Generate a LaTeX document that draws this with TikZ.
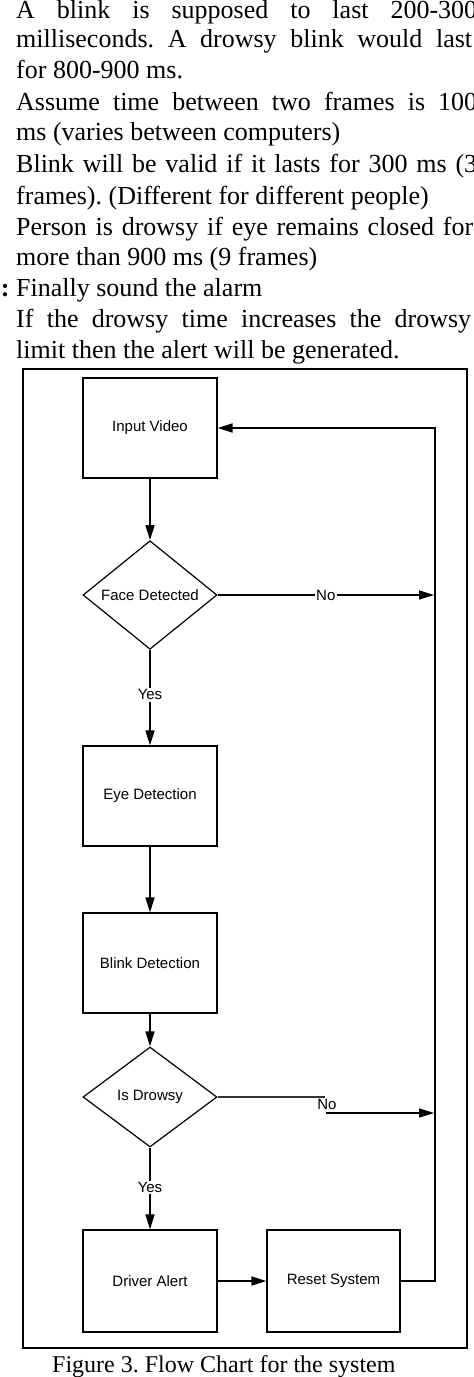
\documentclass[tikz,border=0pt]{standalone}
\usepackage{fontspec}
\setmainfont{Liberation Serif}
\newfontfamily\flowfont{Liberation Sans}
\usetikzlibrary{shapes.geometric,arrows.meta}
\frenchspacing
\begin{document}
\begin{tikzpicture}[x=1pt,y=-1pt,
  body/.style={anchor=base west, inner sep=0pt, font=\fontsize{26}{30}\selectfont},
  proc/.style={draw, line width=1.2pt, minimum width=134pt, minimum height=100pt, inner sep=0pt,
    font=\flowfont\fontsize{15}{18}\selectfont},
  dec/.style={diamond, draw, line width=1.2pt, minimum width=134pt, minimum height=100pt, inner sep=0pt,
    font=\flowfont\fontsize{15}{18}\selectfont},
  conn/.style={line width=1.5pt, -{Triangle[length=15pt,width=9pt]}},
  thin/.style={line width=1.2pt},
  lab/.style={fill=white, inner sep=1.5pt, font=\flowfont\fontsize{15}{18}\selectfont},
  frame/.style={line width=2.6pt}
]
\clip (0,0) rectangle (474,1377);
\fill[white] (0,0) rectangle (474,1377);

% text above the figure
\node[body] (t1) at (16,18) {\makebox[461pt][s]{A blink is supposed to last 200-300}};
\node[body] (t2) at (16,47) {\makebox[456pt][s]{milliseconds. A drowsy blink would last}};
\node[body] (t3) at (16,78) {for 800-900 ms.};
\node[body] (t4) at (16,110) {\makebox[461pt][s]{Assume time between two frames is 100}};
\node[body] (t5) at (16,140) {ms (varies between computers)};
\node[body] (t6) at (16,172) {\makebox[461pt][s]{Blink will be valid if it lasts for 300 ms (3}};
\node[body] (t7) at (16,204) {frames). (Different for different people)};
\node[body] (t8) at (16,235) {\makebox[457pt][s]{Person is drowsy if eye remains closed for}};
\node[body] (t9) at (16,265) {more than 900 ms (9 frames)};
\node[body] (t10) at (0.8,296) {\textbf{:} Finally sound the alarm};
\node[body] (t11) at (16,327) {\makebox[455pt][s]{If the drowsy time increases the drowsy}};
\node[body] (t12) at (16,358) {limit then the alert will be generated.};

% frame
\draw[frame] (23,369) rectangle (467,1348);

% flow chart nodes
\node[proc] (iv) at (150,428) {Input Video};
\node[dec]  (fd) at (150,595) {Face Detected};
\node[proc] (ed) at (150,796) {Eye Detection};
\node[proc] (bd) at (150,963) {Blink Detection};
\node[dec]  (dr) at (150,1097) {Is Drowsy};
\node[proc, minimum height=102pt] (da) at (150,1281) {Driver Alert};
\node[proc, minimum width=133pt, minimum height=102pt] (rs) at (333.5,1281) {Reset System};

\coordinate (r1) at (435,1281);
\coordinate (r2) at (435,428);
\coordinate (m1) at (434,595);
\coordinate (n2a) at (325,1097);
\coordinate (n2b) at (326,1113);
\coordinate (m2) at (434,1113);

% connectors
\draw[conn] (iv.south) -- (fd.north);
\draw[conn] (fd.south) -- node[lab, pos=0.47] {Yes} (ed.north);
\draw[conn] (fd.east) -- node[lab, pos=0.5] {No} (m1);
\draw[conn] (ed.south) -- (bd.north);
\draw[conn] (bd.south) -- (dr.north);
\draw[conn] (dr.south) -- node[lab, pos=0.49] {Yes} (da.north);
\draw[thin, black!80] (dr.east) -- (n2a);
\node[font=\flowfont\fontsize{15}{18}\selectfont, inner sep=0pt] (no2) at (327,1104) {No};
\draw[conn] (n2b) -- (m2);
\draw[conn] (da.east) -- (rs.west);
\draw[conn, line width=1.8pt] (rs.east) -- (r1) -- (r2) -- (iv.east);

% caption
\node[anchor=base west, inner sep=0pt, font=\fontsize{24}{28}\selectfont] (cap) at (52,1372) {Figure 3. Flow Chart for the system};
\end{tikzpicture}
\end{document}
